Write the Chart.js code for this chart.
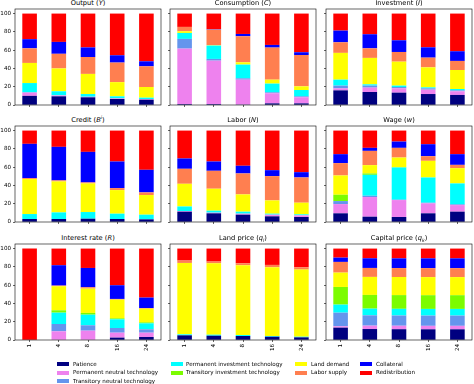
<!DOCTYPE html>
<html>
<head>
<meta charset="utf-8">
<script src="https://cdn.jsdelivr.net/npm/chart.js@4/dist/chart.umd.min.js"></script>
<style>
    body { margin: 0; width: 474px; height: 384px; background: #fff; position: relative; overflow: hidden; font-family: 'DejaVu Sans', sans-serif; }
    .panel { position: absolute; }
    .titulo { position: absolute; font-size: 6.7px; line-height: 8px; text-align: center; white-space: nowrap; color: #000; }
    .titulo sup, .titulo sub { font-size: 4.6px; line-height: 0; }
    .ley-color { position: absolute; width: 11.5px; height: 4px; }
    .ley-texto { position: absolute; font-size: 5.6px; line-height: 7px; white-space: nowrap; color: #000; }
</style>
</head>
<body>
<script>
// --- Datos ---
const horizontes = ['1', '4', '8', '16', '24'];
const marcasY = [0, 20, 40, 60, 80, 100];

const choques = [
    'Patience', 'Permanent neutral technology', 'Transitory neutral technology',
    'Permanent investment technology', 'Transitory investment technology',
    'Land demand', 'Labor supply', 'Collateral', 'Redistribution'
];
const colores = ['#000080', '#ee82ee', '#6495ed', '#00ffff', '#7cfc00', '#ffff00', '#ff7f50', '#0000ff', '#ff0000'];

// una fila por choque (mismo orden que "choques"), una columna por horizonte
const output = [
    [10, 9.5, 8.4, 6.6, 5.8],
    [3.5, 1, 0.6, 0.6, 0.7],
    [0.5, 0, 0, 0, 0],
    [10, 4.5, 3, 2.3, 1.5],
    [0, 0, 0, 0, 0],
    [22, 25, 22, 15.5, 11.7],
    [16, 16, 18.5, 21.4, 22.6],
    [10, 13, 10.5, 8, 5.5],
    [28, 31, 37, 45.6, 52.2]
];
const consumption = [
    [1, 1, 0.5, 1.8, 1.8],
    [60.7, 47.5, 27.2, 11, 6.6],
    [10.6, 1.9, 1.5, 1.1, 1.1],
    [6.5, 14.6, 15, 9.5, 6.9],
    [0, 0, 0, 0, 0],
    [1.9, 0.5, 2.5, 4.3, 4],
    [4.7, 17, 28.5, 35.1, 34.3],
    [0, 0.5, 2.5, 2.9, 3],
    [14.6, 17, 22.3, 34.3, 42.3]
];
const investment = [
    [16, 14.2, 13.5, 12, 11],
    [2.2, 4.8, 4.7, 4.8, 4],
    [3, 2.2, 1.5, 1.4, 1],
    [6.5, 1.4, 1.5, 1.1, 1.5],
    [0, 0, 0, 0, 0],
    [29.3, 28.9, 26.2, 21.9, 20.8],
    [11.6, 10.5, 10.6, 10.6, 9.9],
    [12.8, 15.4, 12.8, 11.3, 10.6],
    [18.6, 22.6, 29.2, 36.9, 41.2]
];
const credit = [
    [3.3, 3.3, 3.6, 3.3, 2.9],
    [0, 0, 0, 0, 0],
    [0, 0, 0, 0, 0],
    [5.4, 7.2, 7.3, 5.8, 5.1],
    [0, 0, 0, 0, 0],
    [38.3, 33.9, 31.3, 25.8, 21.5],
    [1, 1.1, 1.1, 2.2, 2.9],
    [37.5, 36.7, 33.4, 29.1, 24.7],
    [14.5, 17.8, 23.3, 33.8, 42.9]
];
const labor = [
    [11.3, 9.5, 8, 6.2, 5.5],
    [0.7, 0.7, 1.1, 1.8, 1.8],
    [0, 0, 0, 0, 0],
    [5, 2.2, 2.2, 1.1, 1.1],
    [0, 0, 0, 0, 0],
    [24.8, 24, 18.9, 14.5, 12.7],
    [16.4, 19.6, 22.9, 26.6, 27.6],
    [11.3, 10.2, 8.4, 6.5, 5.8],
    [30.5, 33.8, 38.5, 43.3, 45.5]
];
const wage = [
    [9.5, 5.8, 5.5, 9.5, 11.3],
    [10.1, 21.5, 18.5, 10.9, 7.2],
    [3.3, 1.4, 0.4, 0.7, 0.8],
    [0, 22.9, 35.2, 27.6, 22.9],
    [6.9, 1.5, 0.4, 0, 0],
    [21.1, 9.1, 10.5, 18.2, 16.7],
    [13.5, 15.6, 10.6, 5.1, 3.6],
    [9.8, 3.3, 6.9, 13.1, 11.7],
    [25.8, 18.9, 12, 14.9, 25.8]
];
const interestRate = [
    [0, 0, 0, 2.6, 3.3],
    [0, 9.5, 10.2, 5.4, 4.7],
    [0, 8, 5.9, 5.1, 3.7],
    [0, 12.4, 11.6, 9.5, 6.5],
    [0, 2.6, 1.9, 1.1, 1.1],
    [0, 26.3, 26.6, 20.5, 15],
    [0, 0.7, 1.5, 0.7, 0.7],
    [0, 22.3, 21.1, 15, 11.4],
    [100, 18.2, 21.2, 40.1, 53.6]
];
const landPrice = [
    [5.1, 4.7, 4.4, 3.6, 2.9],
    [0, 0, 0, 0, 0],
    [0, 0, 0, 0, 0],
    [1.1, 1.1, 1.1, 0.8, 0.7],
    [0, 0, 0, 0, 0],
    [78.1, 78.1, 76.3, 75.2, 73.4],
    [2.6, 1.9, 2.2, 2.5, 2.6],
    [0, 0, 0, 0, 0],
    [13.1, 14.2, 16, 17.9, 20.4]
];
const capitalPrice = [
    [13.5, 12, 11.8, 11.7, 11.7],
    [1.5, 3.7, 3.8, 3.8, 3.8],
    [14.9, 11.3, 11.2, 11.2, 11.2],
    [8.8, 7.3, 7.3, 7.3, 7.3],
    [19.3, 15, 15, 15, 15],
    [15.7, 19.7, 19.8, 19.8, 19.8],
    [11.7, 9.8, 9.8, 9.8, 9.8],
    [4.7, 10.6, 10.6, 10.7, 10.7],
    [9.9, 10.6, 10.7, 10.7, 10.7]
];

const titulos = [
    'Output (<i>Y</i>)', 'Consumption (<i>C</i>)', 'Investment (<i>I</i>)',
    'Credit (<i>B<sup>i</sup></i>)', 'Labor (<i>N</i>)', 'Wage (<i>w</i>)',
    'Interest rate (<i>R</i>)', 'Land price (<i>q<sub>l</sub></i>)', 'Capital price (<i>q<sub>k</sub></i>)'
];
const series = [output, consumption, investment, credit, labor, wage, interestRate, landPrice, capitalPrice];

// --- Layout ---
const colX = [15, 170, 326];
const filaY = [9, 126, 244];
const anchoEje = 146, altoEje = 96, anchoY = 15;
const fuente = 'DejaVu Sans';

// marco completo alrededor de cada panel
const marco = {
    id: 'marco',
    afterDraw(chart) {
        const { ctx, chartArea: a } = chart;
        ctx.save();
        ctx.strokeStyle = '#000';
        ctx.lineWidth = 0.6;
        ctx.strokeRect(a.left, a.top, a.right - a.left, a.bottom - a.top);
        ctx.restore();
    }
};

series.forEach((datos, i) => {
    const col = i % 3, fila = Math.floor(i / 3);
    const abajo = fila === 2, izquierda = col === 0;
    const altoX = abajo ? 24 : 5;

    const div = document.createElement('div');
    div.className = 'panel';
    div.style.left = (colX[col] - anchoY) + 'px';
    div.style.top = (filaY[fila] - 1) + 'px';
    div.style.width = (anchoY + anchoEje + 2) + 'px';
    div.style.height = (1 + altoEje + altoX) + 'px';
    const canvas = document.createElement('canvas');
    div.appendChild(canvas);
    document.body.appendChild(div);

    const t = document.createElement('div');
    t.className = 'titulo';
    t.style.left = colX[col] + 'px';
    t.style.width = anchoEje + 'px';
    t.style.top = (filaY[fila] - 10) + 'px';
    t.innerHTML = titulos[i];
    document.body.appendChild(t);

    new Chart(canvas, {
        type: 'bar',
        data: {
            labels: horizontes,
            datasets: choques.map((nombre, k) => ({
                label: nombre,
                data: datos[k],
                backgroundColor: colores[k],
                borderWidth: 0,
                barPercentage: 0.5,
                categoryPercentage: 1
            }))
        },
        options: {
            responsive: true,
            maintainAspectRatio: false,
            animation: false,
            layout: { padding: { top: 1, right: 2, left: 0, bottom: 0 } },
            plugins: { legend: { display: false }, tooltip: { enabled: false } },
            scales: {
                x: {
                    stacked: true,
                    offset: true,
                    border: { display: false },
                    grid: { offset: false, drawOnChartArea: false, drawTicks: true, tickLength: 2, color: '#000', lineWidth: 0.6 },
                    ticks: { display: abajo, minRotation: 90, maxRotation: 90, padding: 2, color: '#000', font: { family: fuente, size: 5.6 } },
                    afterFit: s => { s.height = altoX; s.paddingLeft = 0; s.paddingRight = 0; }
                },
                y: {
                    stacked: true,
                    min: 0,
                    max: 105,
                    border: { display: false },
                    grid: { drawOnChartArea: false, drawTicks: true, tickLength: 2, color: '#000', lineWidth: 0.6 },
                    ticks: { display: izquierda, padding: 2, color: '#000', font: { family: fuente, size: 5.6 } },
                    afterBuildTicks: s => { s.ticks = marcasY.map(v => ({ value: v })); },
                    afterFit: s => { s.width = anchoY; s.paddingTop = 0; s.paddingBottom = 0; }
                }
            }
        },
        plugins: [marco]
    });
});

// --- Leyenda (4 columnas, llenado por columnas) ---
const colLeyenda = [[57, 73], [171, 186], [295, 311], [360, 376]];
const filasLeyenda = [364.3, 372.7, 381];
const reparto = [[0, 1, 2], [3, 4], [5, 6], [7, 8]];
reparto.forEach((items, c) => {
    items.forEach((k, r) => {
        const cuadro = document.createElement('div');
        cuadro.className = 'ley-color';
        cuadro.style.left = colLeyenda[c][0] + 'px';
        cuadro.style.top = (filasLeyenda[r] - 2) + 'px';
        cuadro.style.background = colores[k];
        document.body.appendChild(cuadro);

        const txt = document.createElement('div');
        txt.className = 'ley-texto';
        txt.style.left = colLeyenda[c][1] + 'px';
        txt.style.top = (filasLeyenda[r] - 3.5) + 'px';
        txt.textContent = choques[k];
        document.body.appendChild(txt);
    });
});
</script>
</body>
</html>
